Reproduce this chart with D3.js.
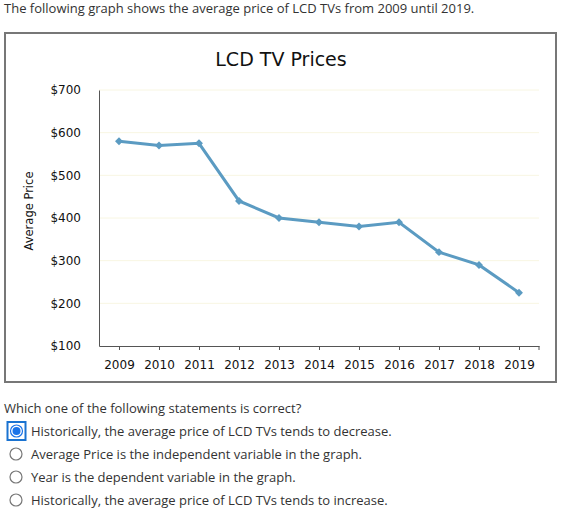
<!DOCTYPE html>
<html>
<head>
<meta charset="utf-8">
<script src="https://cdn.jsdelivr.net/npm/d3@7"></script>
<style>
  body { margin: 0; background: #fff; }
  text { fill: #333; }
  .chart text { font-family: "DejaVu Sans", Verdana, sans-serif; fill: #111; }
  .axis path, .axis line { stroke: #555; }
  .grid line { stroke: #f8f6e2; }
  .page { font-family: "Open Sans", sans-serif; }
</style>
</head>
<body>
<svg id="page" width="579" height="528"></svg>
<script>

// chart data
const years = ["2009", "2010", "2011", "2012", "2013", "2014", "2015", "2016", "2017", "2018", "2019"];
const prices = [580, 570, 575, 440, 400, 390, 380, 390, 320, 290, 225];
const priceTicks = [100, 200, 300, 400, 500, 600, 700];

const intro = "The following graph shows the average price of LCD TVs from 2009 until 2019.";
const question = "Which one of the following statements is correct?";
const answers = [
	"Historically, the average price of LCD TVs tends to decrease.",
	"Average Price is the independent variable in the graph.",
	"Year is the dependent variable in the graph.",
	"Historically, the average price of LCD TVs tends to increase."
];
const picked = 0;

const svg = d3.select("#page");

svg.append("text")
	.attr("class", "page")
	.attr("x", 4)
	.attr("y", 13)
	.attr("font-size", "13px")
	.text(intro);

// frame round the chart
svg.append("rect")
	.attr("x", 5)
	.attr("y", 33)
	.attr("width", 551)
	.attr("height", 349)
	.attr("fill", "#fff")
	.attr("stroke", "#777")
	.attr("stroke-width", 2);

const chart = svg.append("g").attr("class", "chart");

const xScale = d3.scalePoint().domain(years).range([99, 539]).padding(0.5),
	yScale = d3.scaleLinear().domain([100, 700]).range([346, 90]);

chart.append("g")
	.attr("class", "grid")
	.selectAll("line")
	.data(priceTicks.slice(1))
	.enter()
	.append("line")
	.attr("x1", xScale.range()[0])
	.attr("x2", xScale.range()[1])
	.attr("y1", d => yScale(d))
	.attr("y2", d => yScale(d));

chart.append("g")
	.attr("class", "axis")
	.attr("transform", "translate(99,0)")
	.call(d3.axisLeft(yScale).tickValues(priceTicks).tickSize(0).tickPadding(18).tickFormat(d => "$" + d))
	.call(g => g.selectAll("text").attr("font-size", "12px").attr("font-family", null))
	.call(g => g.select(".domain").attr("stroke", "#555"));

const xAxis = chart.append("g")
	.attr("class", "axis")
	.attr("transform", "translate(0,346)")
	.call(d3.axisBottom(xScale).tickSizeInner(4).tickSizeOuter(0).tickPadding(10))
	.call(g => g.selectAll("text").attr("font-size", "12px").attr("font-family", null));

// closing tick at the right end of the axis
xAxis.append("line")
	.attr("x1", xScale.range()[1])
	.attr("x2", xScale.range()[1])
	.attr("y1", 0)
	.attr("y2", 4);

chart.append("text")
	.attr("x", 281)
	.attr("y", 66)
	.attr("text-anchor", "middle")
	.attr("font-size", "19px")
	.text("LCD TV Prices");

chart.append("text")
	.attr("transform", "translate(33,211) rotate(-90)")
	.attr("text-anchor", "middle")
	.attr("font-size", "11.5px")
	.text("Average Price");

const line = d3.line()
	.x((d, i) => xScale(years[i]))
	.y(d => yScale(d));

chart.append("path")
	.datum(prices)
	.attr("d", line)
	.attr("fill", "none")
	.attr("stroke", "#5b9bc2")
	.attr("stroke-width", 3);

chart.selectAll(".dot")
	.data(prices)
	.enter()
	.append("path")
	.attr("class", "dot")
	.attr("d", d3.symbol(d3.symbolDiamond2, 40))
	.attr("transform", (d, i) => "translate(" + xScale(years[i]) + "," + yScale(d) + ")")
	.attr("fill", "#5b9bc2");

// question and answers
svg.append("text")
	.attr("class", "page")
	.attr("x", 4)
	.attr("y", 413)
	.attr("font-size", "13px")
	.text(question);

const rows = svg.append("g").attr("class", "page");

answers.forEach((a, i) => {
	const cy = 431 + i * 23;
	if (i == picked) {
		rows.append("rect")
			.attr("x", 7.5)
			.attr("y", cy - 9)
			.attr("width", 18)
			.attr("height", 18)
			.attr("fill", "none")
			.attr("stroke", "#1a73d1")
			.attr("stroke-width", 2);
		rows.append("circle")
			.attr("cx", 16.5)
			.attr("cy", cy)
			.attr("r", 6)
			.attr("fill", "#fff")
			.attr("stroke", "#1a73e8")
			.attr("stroke-width", 1.2);
		rows.append("circle")
			.attr("cx", 16.5)
			.attr("cy", cy)
			.attr("r", 4)
			.attr("fill", "#1a73e8");
	} else {
		rows.append("circle")
			.attr("cx", 16)
			.attr("cy", cy)
			.attr("r", 6)
			.attr("fill", "#fff")
			.attr("stroke", "#777")
			.attr("stroke-width", 1.2);
	}
	rows.append("text")
		.attr("x", 31)
		.attr("y", cy + 5)
		.attr("font-size", "13px")
		.text(a);
});

</script>
</body>
</html>
